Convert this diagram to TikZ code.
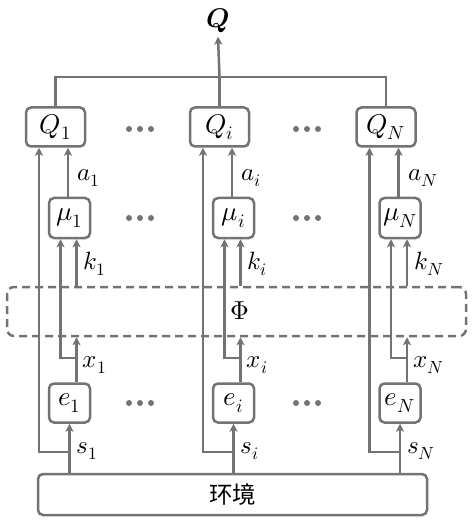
\documentclass[tikz,border=0pt]{standalone}
\usepackage{fontspec}
\usepackage{unicode-math}
\setmathfont{Latin Modern Math}
\newfontfamily\cjk{Noto Sans CJK SC}
\usetikzlibrary{arrows.meta,calc}
\definecolor{ln}{RGB}{115,115,115}
\tikzset{
  box/.style={draw=ln, line width=2.5pt, rounded corners=5pt, inner sep=0pt, font=\fontsize{27}{31}\selectfont},
  conn/.style={draw=ln, line width=2.5pt},
  arr/.style={conn, -{Stealth[length=8pt,width=8pt,inset=2pt]}},
  lbl/.style={anchor=west, inner sep=0pt, font=\fontsize{25}{29}\selectfont},
  dot/.style={fill=ln, draw=none}
}
\begin{document}
\begin{tikzpicture}[x=1pt,y=-1pt]
\useasboundingbox (0,0) rectangle (474,521);
\node[box, minimum width=389pt, minimum height=41pt, font=\fontsize{23.5}{27}\selectfont\cjk] (env) at (232.5,494.5) {环境};
\node[draw=ln, line width=2.5pt, dash pattern=on 8pt off 5pt, rounded corners=7pt, minimum width=459pt, minimum height=49pt] (phi) at (236.5,311.5) {};
\node[font=\fontsize{26}{30}\selectfont] (philbl) at (240,311) {$\Phi$};
\node[font=\fontsize{27}{31}\selectfont] (Qout) at (218,21) {$\symbfit{Q}$};
\foreach \n/\c in {1/69.5, i/233.5, N/400}{
  \node[box, minimum width=59pt, minimum height=39pt] (Q\n) at (\c-14,127) {$Q_\n$};
  \node[box, minimum width=41pt, minimum height=40pt] (mu\n) at (\c,218) {$\mu_\n$};
  \node[box, minimum width=41pt, minimum height=39pt] (e\n) at (\c,403) {$e_\n$};
  \coordinate (s\n) at (\c,452);
  \coordinate (xj\n) at (\c+7,358);
  % env -> e, with branch to Q
  \draw[arr] (env.north -| e\n) -- (e\n.south);
  \draw[arr] (s\n) -| ($(Q\n.south)+(-16.5,0)$);
  \node[lbl] (sl\n) at (\c+7,451) {$s_\n$};
  % e -> phi, with bypass to mu
  \draw[arr] ($(e\n.north)+(7,0)$) -- ($(phi.south -| e\n)+(7,0)$);
  \draw[arr] (xj\n) -| ($(mu\n.south)+(-9,0)$);
  \node[lbl] (xl\n) at (\c+13,365) {$x_\n$};
  % phi -> mu
  \draw[arr] ($(phi.north -| mu\n)+(7,0)$) -- ($(mu\n.south)+(7,0)$);
  \node[lbl] (kl\n) at (\c+14,264) {$k_\n$};
  % mu -> Q
  \draw[arr] ($(mu\n.north)+(-1.5,0)$) -- ($(Q\n.south -| mu\n)+(-1.5,0)$);
  \node[lbl] (al\n) at (\c+8,178) {$a_\n$};
}
\coordinate (top) at (Qi.north |- 0,77);
\draw[conn] (Q1.north) |- (top) -| (QN.north);
\draw[conn] (Qi.north) -- (top);
\draw[arr] (top) -- (Qout.south);
\foreach \y in {129,218,403}{
  \foreach \x in {140,307}{
    \fill[dot] (\x-11,\y) circle (3pt) (\x,\y) circle (3pt) (\x+11,\y) circle (3pt);
  }
}
\end{tikzpicture}
\end{document}
